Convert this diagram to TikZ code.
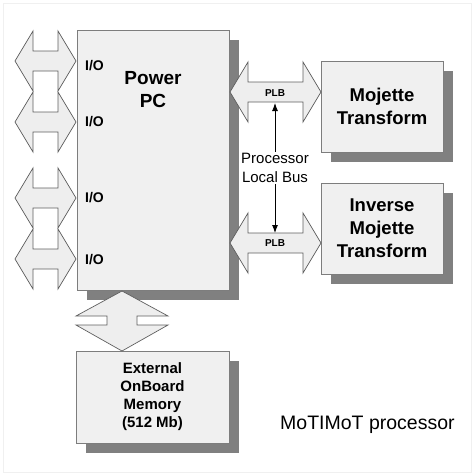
\documentclass[tikz,border=0pt]{standalone}
\usepackage{fontspec}
\setmainfont{Liberation Sans}
\usetikzlibrary{shadows,arrows.meta}

\definecolor{boxfill}{RGB}{240,240,240}
\definecolor{boxline}{RGB}{125,125,125}
\definecolor{shadowgray}{RGB}{128,128,128}
\definecolor{busfill}{RGB}{238,238,238}
\definecolor{busline}{RGB}{95,95,95}

% horizontal block arrow: x1, x2, y
\newcommand{\hbus}[3]{%
  \draw[busarrow] (#1,#3) -- (#1+18,#3-30) -- (#1+18,#3-10) -- (#2-18,#3-10)
    -- (#2-18,#3-30) -- (#2,#3) -- (#2-18,#3+30) -- (#2-18,#3+10)
    -- (#1+18,#3+10) -- (#1+18,#3+30) -- cycle;}
% vertical block arrow: x, y1, y2
\newcommand{\vbus}[3]{%
  \draw[busarrow] (#1,#2) -- (#1+46,#2+25) -- (#1+15,#2+25) -- (#1+15,#3-26)
    -- (#1+46,#3-26) -- (#1,#3) -- (#1-46,#3-26) -- (#1-15,#3-26)
    -- (#1-15,#2+25) -- (#1-46,#2+25) -- cycle;}

\begin{document}
\begin{tikzpicture}[x=1pt, y=-1pt,
	block/.style={draw=boxline, fill=boxfill, line width=0.8pt, align=center,
		drop shadow={shadow xshift=10pt, shadow yshift=-10pt, fill=shadowgray, opacity=1}},
	busarrow/.style={draw=busline, fill=busfill, line width=0.7pt, line join=miter},
	iolabel/.style={anchor=west, inner sep=0pt, font=\fontsize{14}{16}\selectfont\bfseries},
	plblabel/.style={inner sep=1pt, font=\fontsize{10}{12}\selectfont\bfseries},
	]

	\useasboundingbox (0,0) rectangle (474,474);
	\draw[gray!12] (3,3) rectangle (471,472);

	% blocks
	\node[block, minimum width=152pt, minimum height=260pt] (ppc) at (153,160) {};
	\node[block, minimum width=122pt, minimum height=91pt,
		font=\fontsize{18.5}{23.5}\selectfont\bfseries] (mojette) at (382,106.5) {Mojette\\Transform};
	\node[block, minimum width=122pt, minimum height=91pt,
		font=\fontsize{18.5}{23}\selectfont\bfseries] (invmojette) at (382,228.5) {Inverse\\Mojette\\Transform};
	\node[block, minimum width=153pt, minimum height=92pt,
		font=\fontsize{15}{18}\selectfont\bfseries] (memory) at (152.5,397) {External\\OnBoard\\Memory\\(512 Mb)};

	\node[align=center, font=\fontsize{19}{23}\selectfont\bfseries] (ppctext) at (153,90) {Power\\PC};

	% block arrows
	\foreach \y in {61,122,198,259} {\hbus{15}{76}{\y}}
	\hbus{230}{321}{92}
	\hbus{230}{321}{243}
	\vbus{122}{291}{351}

	% labels
	\node[iolabel] (io1) at (85,66) {I/O};
	\node[iolabel] (io2) at (85,122) {I/O};
	\node[iolabel] (io3) at (85,198) {I/O};
	\node[iolabel] (io4) at (85,260) {I/O};

	\node[plblabel] (plb1) at (275,93) {PLB};
	\node[plblabel] (plb2) at (275,243) {PLB};

	\coordinate (bustop) at (275,103);
	\coordinate (busbot) at (275,233);
	\draw[line width=0.9pt, {Latex[length=8pt,width=6pt]}-{Latex[length=8pt,width=6pt]}] (bustop) -- (busbot);
	\node[fill=white, align=center, inner sep=1pt, font=\fontsize{15}{19}\selectfont] (bustext) at (275,168) {Processor\\Local Bus};

	\node[anchor=west, inner sep=0pt, font=\fontsize{19.5}{22}\selectfont] (caption) at (280,425) {MoTIMoT processor};

\end{tikzpicture}
\end{document}
